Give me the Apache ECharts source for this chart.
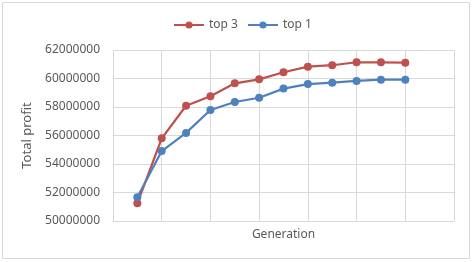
<!DOCTYPE html>
<html>
<head>
<meta charset="utf-8">
<script src="https://cdn.jsdelivr.net/npm/echarts@6/dist/echarts.min.js"></script>
<style>
  html, body { margin: 0; padding: 0; background: #fff; }
  #chart { width: 474px; height: 262px; }
</style>
</head>
<body>
<div id="chart"></div>
<script>
// Generation index (x axis labels are hidden in the original)
const generations = [1, 2, 3, 4, 5, 6, 7, 8, 9, 10, 11, 12];
const top3 = [51240000, 55800000, 58090000, 58750000, 59660000, 59940000, 60440000, 60830000, 60930000, 61140000, 61140000, 61110000];
const top1 = [51660000, 54910000, 56180000, 57790000, 58350000, 58650000, 59290000, 59610000, 59710000, 59830000, 59920000, 59920000];

const RED = "#c0504d";
const BLUE = "#4f81bd";
const TEXT = "#595959";
const GRID = "#d9d9d9";
const FONT = "Noto Sans";

const chart = echarts.init(document.getElementById("chart"));

const pair = (vals) => generations.map((g, i) => [g, vals[i]]);

chart.setOption({
  animation: false,
  backgroundColor: "#fff",
  textStyle: { fontFamily: FONT },
  graphic: [
    {
      type: "rect",
      shape: { x: 2.5, y: 2.5, width: 467, height: 256 },
      style: { fill: "none", stroke: GRID, lineWidth: 1 },
      silent: true,
    },
  ],
  legend: {
    top: 14,
    left: 168,
    itemWidth: 30,
    itemHeight: 9,
    itemGap: 9,
    textStyle: { color: TEXT, fontSize: 12, fontFamily: FONT },
    data: ["top 3", "top 1"],
  },
  grid: { left: 113, right: 20, top: 50, bottom: 41 },
  xAxis: {
    type: "value",
    min: 0,
    max: 14,
    interval: 2,
    name: "Generation",
    nameLocation: "middle",
    nameGap: 8,
    nameTextStyle: { color: TEXT, fontSize: 12, fontFamily: FONT },
    axisLine: { show: true, lineStyle: { color: GRID } },
    axisTick: { show: false },
    axisLabel: { show: false },
    splitLine: { show: true, lineStyle: { color: GRID, width: 1 } },
  },
  yAxis: {
    type: "value",
    min: 50000000,
    max: 62000000,
    interval: 2000000,
    name: "Total profit",
    nameLocation: "middle",
    nameGap: 71,
    nameTextStyle: { color: TEXT, fontSize: 13, fontFamily: FONT },
    axisLine: { show: false },
    axisTick: { show: false },
    axisLabel: {
      color: TEXT,
      fontSize: 12,
      margin: 13,
      fontFamily: FONT,
      formatter: (v) => String(v),
    },
    splitLine: { show: true, lineStyle: { color: GRID, width: 1 } },
  },
  series: [
    {
      name: "top 3",
      type: "line",
      data: pair(top3),
      symbol: "circle",
      symbolSize: 8,
      itemStyle: { color: RED },
      lineStyle: { color: RED, width: 2.25 },
    },
    {
      name: "top 1",
      type: "line",
      data: pair(top1),
      symbol: "circle",
      symbolSize: 8,
      itemStyle: { color: BLUE },
      lineStyle: { color: BLUE, width: 2.25 },
    },
  ],
});
</script>
</body>
</html>
